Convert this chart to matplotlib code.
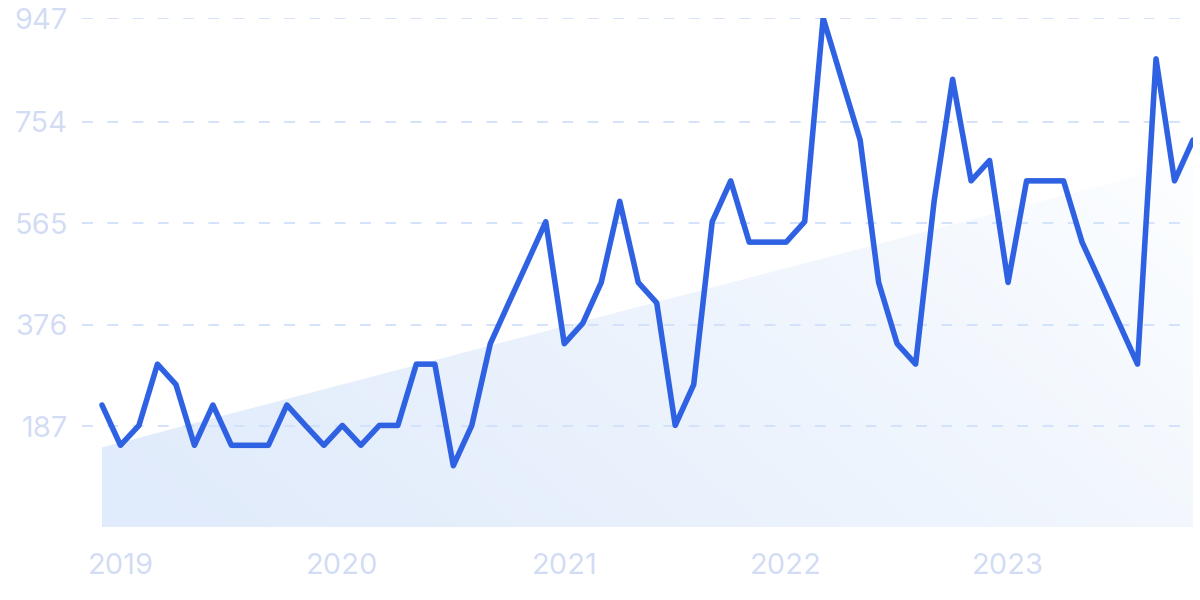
import numpy as np
import matplotlib.pyplot as plt
from matplotlib.patches import Polygon
from matplotlib.colors import to_rgb

# monthly values, Dec 2018 .. Nov 2023
values = [227, 152, 189, 303, 265, 152, 227, 152, 152, 152,
          227, 189, 152, 189, 152, 189, 189, 303, 303, 114,
          189, 341, 417, 492, 568, 341, 379, 455, 606, 455,
          417, 189, 265, 568, 644, 530, 530, 530, 568, 947,
          833, 720, 455, 341, 303, 606, 833, 644, 682, 455,
          644, 644, 644, 530, 455, 379, 303, 871, 644, 720]

# trend band (start / end value)
trend_start = 148
trend_end = 680

ytick_values = [187, 376, 565, 754, 947]
ytick_labels = ['187', '376', '565', '754', '947']
year_index = [1, 13, 25, 37, 49]
year_labels = ['2019', '2020', '2021', '2022', '2023']

plt.rcParams['font.family'] = ['Inter', 'DejaVu Sans']

fig = plt.figure(figsize=(12, 6), dpi=100)
ax = fig.add_axes([82 / 1200, 73 / 600, (1193 - 82) / 1200, (527 - 18) / 600])

n = len(values)
x = np.arange(n)
ax.set_xlim(-1.08, n - 1)
ax.set_ylim(0, 947)

# gradient trend area
poly = Polygon([(0, 0), (0, trend_start), (n - 1, trend_end), (n - 1, 0)],
               closed=True, facecolor='none', edgecolor='none')
ax.add_patch(poly)
gx = np.linspace(0, 1, 300)
gy = np.linspace(0, 1, 150)
GX, GY = np.meshgrid(gx, gy)
t = np.clip(0.75 * GX + 0.3 * (1 - GY), 0, 1) ** 1.2
c0 = np.array(to_rgb('#e0ebfb'))
c1 = np.array(to_rgb('#fbfdff'))
img = c0[None, None, :] * (1 - t[..., None]) + c1[None, None, :] * t[..., None]
im = ax.imshow(img, extent=(0, n - 1, 0, trend_end), origin='upper',
               aspect='auto', zorder=1, interpolation='bilinear')
im.set_clip_path(poly)

# dashed grid
for v in ytick_values:
    ax.axhline(v, color='#d0e1fb', lw=1.3, dashes=(6.0, 8.0), zorder=2)

ax.plot(x, values, color='#2F62E3', lw=4.0, solid_joinstyle='round',
        solid_capstyle='round', zorder=3)

ax.set_yticks(ytick_values)
ax.set_yticklabels(ytick_labels)
ax.set_xticks(year_index)
ax.set_xticklabels(year_labels)
ax.tick_params(axis='both', length=0, labelsize=21, colors='#d2dcf5')
ax.tick_params(axis='y', pad=10)
ax.tick_params(axis='x', pad=19)
for s in ax.spines.values():
    s.set_visible(False)

fig.savefig('out.png', dpi=100)
